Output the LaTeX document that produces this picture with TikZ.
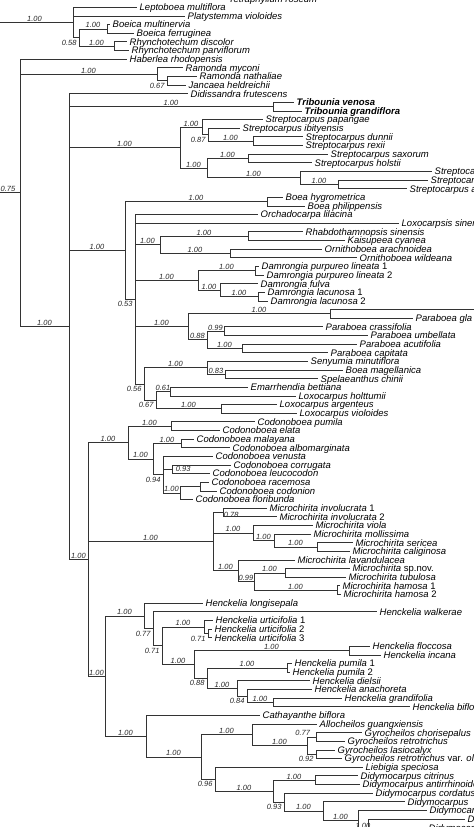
\documentclass[tikz,border=0pt]{standalone}
\usepackage{fontspec}
\setmainfont{Liberation Sans}
\tikzset{
  rama/.style={draw=black!80, line width=0.7pt},
  hoja/.style={anchor=west, inner xsep=2.5pt, inner ysep=0pt, text height=6.8pt, text depth=0pt,
    font=\fontsize{9.5}{10}\selectfont\itshape},
  hojab/.style={hoja, font=\fontsize{9.5}{10}\selectfont\bfseries\itshape},
  soporte/.style={font=\fontsize{7.5}{8}\selectfont\itshape, text=black!85, inner sep=0.6pt},
  sa/.style={soporte, pos=0.75, above},
  sb/.style={soporte, pos=1, anchor=north east, xshift=-1.5pt, yshift=-1.5pt},
  sr/.style={soporte, pos=1, anchor=west, xshift=3pt},
}
\begin{document}
\begin{tikzpicture}[x=1pt, y=-8.635pt]
\useasboundingbox (0,0.1546) rectangle (474,95.93);
\clip (0,0.1546) rectangle (474,95.93);

% Hojas
\node[hoja] (l0) at (226,0) {Tetraphyllum roseum};
\node[hoja] (l1) at (137,1) {Leptoboea multiflora};
\node[hoja] (l2) at (185,2) {Platystemma violoides};
\node[hoja] (l3) at (110,3) {Boeica multinervia};
\node[hoja] (l4) at (134,4) {Boeica ferruginea};
\node[hoja] (l5) at (127,5) {Rhynchotechum discolor};
\node[hoja] (l6) at (129,6) {Rhynchotechum parviflorum};
\node[hoja] (l7) at (127,7) {Haberlea rhodopensis};
\node[hoja] (l8) at (183,8) {Ramonda myconi};
\node[hoja] (l9) at (197,9) {Ramonda nathaliae};
\node[hoja] (l10) at (186,10) {Jancaea heldreichii};
\node[hoja] (l11) at (188,11) {Didissandra frutescens};
\node[hojab] (l12) at (294,12) {Tribounia venosa};
\node[hojab] (l13) at (302,13) {Tribounia grandiflora};
\node[hoja] (l14) at (263,14) {Streptocarpus papangae};
\node[hoja] (l15) at (240,15) {Streptocarpus ibityensis};
\node[hoja] (l16) at (303,16) {Streptocarpus dunnii};
\node[hoja] (l17) at (303,17) {Streptocarpus rexii};
\node[hoja] (l18) at (328,18) {Streptocarpus saxorum};
\node[hoja] (l19) at (312,19) {Streptocarpus holstii};
\node[hoja] (l20) at (432,20) {Streptocarpus};
\node[hoja] (l21) at (428,21) {Streptocarpus};
\node[hoja] (l22) at (407,22) {Streptocarpus a};
\node[hoja] (l23) at (283,23) {Boea hygrometrica};
\node[hoja] (l24) at (305,24) {Boea philippensis};
\node[hoja] (l25) at (258,25) {Orchadocarpa lilacina};
\node[hoja] (l26) at (399,26) {Loxocarpsis sinensis};
\node[hoja] (l27) at (303,27) {Rhabdothamnopsis sinensis};
\node[hoja] (l28) at (345,28) {Kaisupeea cyanea};
\node[hoja] (l29) at (322,29) {Ornithoboea arachnoidea};
\node[hoja] (l30) at (357,30) {Ornithoboea wildeana};
\node[hoja] (l31) at (259,31) {Damrongia purpureo lineata \textup{1}};
\node[hoja] (l32) at (264,32) {Damrongia purpureo lineata \textup{2}};
\node[hoja] (l33) at (258,33) {Damrongia fulva};
\node[hoja] (l34) at (265,34) {Damrongia lacunosa \textup{1}};
\node[hoja] (l35) at (268,35) {Damrongia lacunosa \textup{2}};
\coordinate (l36) at (490,36);
\node[hoja] (l37) at (413,37) {Paraboea gla};
\node[hoja] (l38) at (323,38) {Paraboea crassifolia};
\node[hoja] (l39) at (368,39) {Paraboea umbellata};
\node[hoja] (l40) at (357,40) {Paraboea acutifolia};
\node[hoja] (l41) at (328,41) {Paraboea capitata};
\node[hoja] (l42) at (308,42) {Senyumia minutiflora};
\node[hoja] (l43) at (343,43) {Boea magellanica};
\node[hoja] (l44) at (318,44) {Spelaeanthus chinii};
\node[hoja] (l45) at (248,45) {Emarrhendia bettiana};
\node[hoja] (l46) at (296,46) {Loxocarpus holttumii};
\node[hoja] (l47) at (277,47) {Loxocarpus argenteus};
\node[hoja] (l48) at (297,48) {Loxocarpus violoides};
\node[hoja] (l49) at (255,49) {Codonoboea pumila};
\node[hoja] (l50) at (220,50) {Codonoboea elata};
\node[hoja] (l51) at (194,51) {Codonoboea malayana};
\node[hoja] (l52) at (230,52) {Codonoboea albomarginata};
\node[hoja] (l53) at (213,53) {Codonoboea venusta};
\node[hoja] (l54) at (231,54) {Codonoboea corrugata};
\node[hoja] (l55) at (210,55) {Codonoboea leucocodon};
\node[hoja] (l56) at (209,56) {Codonoboea racemosa};
\node[hoja] (l57) at (217,57) {Codonoboea codonion};
\node[hoja] (l58) at (193,58) {Codonoboea floribunda};
\node[hoja] (l59) at (267,59) {Microchirita involucrata \textup{1}};
\node[hoja] (l60) at (277,60) {Microchirita involucrata \textup{2}};
\node[hoja] (l61) at (313,61) {Microchirita viola};
\node[hoja] (l62) at (311,62) {Microchirita mollissima};
\node[hoja] (l63) at (353,63) {Microchirita sericea};
\node[hoja] (l64) at (350,64) {Microchirita caliginosa};
\node[hoja] (l65) at (295,65) {Microchirita lavandulacea};
\node[hoja] (l66) at (350,66) {Microchirita \textup{sp.nov.}};
\node[hoja] (l67) at (346,67) {Microchirita tubulosa};
\node[hoja] (l68) at (340,68) {Microchirita hamosa \textup{1}};
\node[hoja] (l69) at (341,69) {Microchirita hamosa \textup{2}};
\node[hoja] (l70) at (203,70) {Henckelia longisepala};
\node[hoja] (l71) at (377,71) {Henckelia walkerae};
\node[hoja] (l72) at (213,72) {Henckelia urticifolia \textup{1}};
\node[hoja] (l73) at (212,73) {Henckelia urticifolia \textup{2}};
\node[hoja] (l74) at (212,74) {Henckelia urticifolia \textup{3}};
\node[hoja] (l75) at (370,75) {Henckelia floccosa};
\node[hoja] (l76) at (381,76) {Henckelia incana};
\node[hoja] (l77) at (292,77) {Henckelia pumila \textup{1}};
\node[hoja] (l78) at (290,78) {Henckelia pumila \textup{2}};
\node[hoja] (l79) at (310,79) {Henckelia dielsii};
\node[hoja] (l80) at (312,80) {Henckelia anachoreta};
\node[hoja] (l81) at (342,81) {Henckelia grandifolia};
\node[hoja] (l82) at (410,82) {Henckelia biflora};
\node[hoja] (l83) at (260,83) {Cathayanthe biflora};
\node[hoja] (l84) at (317,84) {Allocheilos guangxiensis};
\node[hoja] (l85) at (362,85) {Gyrocheilos chorisepalus};
\node[hoja] (l86) at (345,86) {Gyrocheilos retrotrichus};
\node[hoja] (l87) at (335,87) {Gyrocheilos lasiocalyx};
\node[hoja] (l88) at (342,88) {Gyrocheilos retrotrichus \textup{var.} oligolobus};
\node[hoja] (l89) at (363,89) {Liebigia speciosa};
\node[hoja] (l90) at (358,90) {Didymocarpus citrinus};
\node[hoja] (l91) at (360,91) {Didymocarpus antirrhinoides};
\node[hoja] (l92) at (373,92) {Didymocarpus cordatus};
\node[hoja] (l93) at (405,93) {Didymocarpus};
\node[hoja] (l94) at (427,94) {Didymocarpus};
\node[hoja] (l95) at (465,95) {Didymocarpus};
\node[hoja] (l96) at (426,96) {Didymocarpus};
\coordinate (l97) at (440,99);

% Nodos internos
\coordinate (base) at (-4,10);
\coordinate (lepto) at (73,2.75);
\coordinate (boeB) at (79,4.5);
\coordinate (boei) at (107,3.5);
\coordinate (rhyn) at (114,5.5);
\coordinate (raiz) at (20,22.48);
\coordinate (ramo) at (157,8.75);
\coordinate (ramb) at (167,9.5);
\coordinate (dida) at (69,37.965);
\coordinate (trib) at (273,12.5);
\coordinate (strA) at (180,17.25);
\coordinate (strB) at (202,14.875);
\coordinate (strC) at (208,15.75);
\coordinate (strD) at (253,16.5);
\coordinate (strE) at (207,19.625);
\coordinate (strF) at (248,18.5);
\coordinate (strG) at (300,20.75);
\coordinate (strH) at (338,21.5);
\coordinate (parE) at (125,29.16);
\coordinate (boea) at (267,23.5);
\coordinate (parF) at (135,34.81);
\coordinate (rhab) at (160,28.5);
\coordinate (rhaA) at (248,27.5);
\coordinate (orni) at (230,29.5);
\coordinate (damA) at (198,32.625);
\coordinate (damB) at (255,31.5);
\coordinate (damC) at (220,33.75);
\coordinate (damD) at (258,34.5);
\coordinate (parA) at (188,38);
\coordinate (parB) at (330,36.5);
\coordinate (parC) at (207,39.5);
\coordinate (parD) at (224,38.5);
\coordinate (parG) at (242,40.5);
\coordinate (loxA) at (144,44.625);
\coordinate (senA) at (207,42.75);
\coordinate (senB) at (225,43.5);
\coordinate (loxB) at (156,46.5);
\coordinate (loxC) at (170,45.5);
\coordinate (loxD) at (221,47.5);
\coordinate (didF) at (88,64.93);
\coordinate (codA) at (128,51.41);
\coordinate (codB) at (171,49.5);
\coordinate (codC) at (153,53.31);
\coordinate (codD) at (181,51.5);
\coordinate (codE) at (163,55.125);
\coordinate (codF) at (172,54.5);
\coordinate (codG) at (180,57.25);
\coordinate (codH) at (200,56.5);
\coordinate (micA) at (213,62.875);
\coordinate (micB) at (223,59.5);
\coordinate (micC) at (253,61.875);
\coordinate (micD) at (274,62.75);
\coordinate (micE) at (317,63.5);
\coordinate (micF) at (238,66.25);
\coordinate (micG) at (254,67.5);
\coordinate (micH) at (285,66.5);
\coordinate (micI) at (337,68.5);
\coordinate (henG) at (105,78.445);
\coordinate (henA) at (144,71.48);
\coordinate (henB) at (153,72.96);
\coordinate (henC) at (162,74.92);
\coordinate (henD) at (204,72.75);
\coordinate (henE) at (208,73.5);
\coordinate (henF) at (194,77.09);
\coordinate (henH) at (349,75.5);
\coordinate (henI) at (207,78.69);
\coordinate (henJ) at (287,77.5);
\coordinate (henK) at (237,79.875);
\coordinate (henL) at (247,80.75);
\coordinate (henM) at (273,81.5);
\coordinate (catA) at (146,85.41);
\coordinate (catB) at (201,87.815);
\coordinate (gyrA) at (252,85.25);
\coordinate (gyrB) at (307,86.5);
\coordinate (gyrC) at (316,85.5);
\coordinate (gyrD) at (316,87.5);
\coordinate (didA) at (215,90.38);
\coordinate (didB) at (273,91.77);
\coordinate (didC) at (315,90.5);
\coordinate (didD) at (284,93.03);
\coordinate (didE) at (323,94.06);
\coordinate (didG) at (358,95.125);
\coordinate (didH) at (368,96.25);
\coordinate (didI) at (378,97.5);

% Ramas
\draw[rama] (base) |- (l0) (base) |- (lepto) node[sa]{1.00} (base) |- (raiz) node[sa]{0.75};
\draw[rama] (lepto) |- (l1) (lepto) |- (l2) (lepto) |- (boeB) node[sb]{0.58};
\draw[rama] (boeB) |- (boei) node[sa]{1.00} (boeB) |- (rhyn) node[sa]{1.00};
\draw[rama] (boei) |- (l3) (boei) |- (l4);
\draw[rama] (rhyn) |- (l5) (rhyn) |- (l6);
\draw[rama] (raiz) |- (l7) (raiz) |- (ramo) node[sa]{1.00} (raiz) |- (dida) node[sa]{1.00};
\draw[rama] (ramo) |- (l8) (ramo) |- (ramb) node[sb]{0.67};
\draw[rama] (ramb) |- (l9) (ramb) |- (l10);
\draw[rama] (dida) |- (l11) (dida) |- (trib) node[sa]{1.00} (dida) |- (strA) node[sa]{1.00}
  (dida) |- (parE) node[sa]{1.00} (dida) |- (didF) node[sa]{1.00};
\draw[rama] (trib) |- (l12) (trib) |- (l13);
% Streptocarpus
\draw[rama] (strA) |- (strB) node[sa]{1.00} (strA) |- (strE) node[sa]{1.00};
\draw[rama] (strB) |- (l14) (strB) |- (strC) node[sb]{0.87};
\draw[rama] (strC) |- (l15) (strC) |- (strD) node[sa]{1.00};
\draw[rama] (strD) |- (l16) (strD) |- (l17);
\draw[rama] (strE) |- (strF) node[sa]{1.00} (strE) |- (strG) node[sa]{1.00};
\draw[rama] (strF) |- (l18) (strF) |- (l19);
\draw[rama] (strG) |- (l20) (strG) |- (strH) node[sa]{1.00};
\draw[rama] (strH) |- (l21) (strH) |- (l22);
% Boea, Paraboea, Loxocarpus
\draw[rama] (parE) |- (boea) node[sa]{1.00} (parE) |- (parF) node[sb]{0.53};
\draw[rama] (boea) |- (l23) (boea) |- (l24);
\draw[rama] (parF) |- (l25) (parF) |- (l26) (parF) |- (rhab) node[sa]{1.00}
  (parF) |- (damA) node[sa]{1.00} (parF) |- (parA) node[sa]{1.00} (parF) |- (loxA) node[sb]{0.56};
\draw[rama] (rhab) |- (rhaA) node[sa]{1.00} (rhab) |- (orni) node[sa]{1.00};
\draw[rama] (rhaA) |- (l27) (rhaA) |- (l28);
\draw[rama] (orni) |- (l29) (orni) |- (l30);
\draw[rama] (damA) |- (damB) node[sa]{1.00} (damA) |- (damC) node[sa]{1.00};
\draw[rama] (damB) |- (l31) (damB) |- (l32);
\draw[rama] (damC) |- (l33) (damC) |- (damD) node[sa]{1.00};
\draw[rama] (damD) |- (l34) (damD) |- (l35);
\draw[rama] (parA) |- (parB) node[sa]{1.00} (parA) |- (parC) node[sa]{0.88};
\draw[rama] (parB) |- (l36) (parB) |- (l37);
\draw[rama] (parC) |- (parD) node[sa]{0.99} (parC) |- (parG) node[sa]{1.00};
\draw[rama] (parD) |- (l38) (parD) |- (l39);
\draw[rama] (parG) |- (l40) (parG) |- (l41);
\draw[rama] (loxA) |- (senA) node[sa]{1.00} (loxA) |- (loxB) node[sb]{0.67};
\draw[rama] (senA) |- (l42) (senA) |- (senB) node[sa]{0.83};
\draw[rama] (senB) |- (l43) (senB) |- (l44);
\draw[rama] (loxB) |- (loxC) node[sa]{0.61} (loxB) |- (loxD) node[sa]{1.00};
\draw[rama] (loxC) |- (l45) (loxC) |- (l46);
\draw[rama] (loxD) |- (l47) (loxD) |- (l48);
% Codonoboea, Microchirita
\draw[rama] (didF) |- (codA) node[sa]{1.00} (didF) |- (micA) node[sa]{1.00} (didF) |- (henG) node[sa]{1.00};
\draw[rama] (codA) |- (codB) node[sa]{1.00} (codA) |- (codC) node[sa]{1.00};
\draw[rama] (codB) |- (l49) (codB) |- (l50);
\draw[rama] (codC) |- (codD) node[sa]{1.00} (codC) |- (codE) node[sb]{0.94};
\draw[rama] (codD) |- (l51) (codD) |- (l52);
\draw[rama] (codE) |- (l53) (codE) |- (codF) node[sr]{0.93} (codE) |- (codG) node[sa]{1.00};
\draw[rama] (codF) |- (l54) (codF) |- (l55);
\draw[rama] (codG) |- (codH) (codG) |- (l58);
\draw[rama] (codH) |- (l56) (codH) |- (l57);
\draw[rama] (micA) |- (micB) node[sr, xshift=-3pt, yshift=-2pt]{0.78} (micA) |- (micC) node[sa]{1.00}
  (micA) |- (micF) node[sa]{1.00};
\draw[rama] (micB) |- (l59) (micB) |- (l60);
\draw[rama] (micC) |- (l61) (micC) |- (micD) node[sa]{1.00};
\draw[rama] (micD) |- (l62) (micD) |- (micE) node[sa]{1.00};
\draw[rama] (micE) |- (l63) (micE) |- (l64);
\draw[rama] (micF) |- (l65) (micF) |- (micG) node[sa]{0.99};
\draw[rama] (micG) |- (micH) node[sa]{1.00} (micG) |- (micI) node[sa]{1.00};
\draw[rama] (micH) |- (l66) (micH) |- (l67);
\draw[rama] (micI) |- (l68) (micI) |- (l69);
% Henckelia
\draw[rama] (henG) |- (henA) node[sa]{1.00} (henG) |- (catA) node[sa]{1.00};
\draw[rama] (henA) |- (l70) (henA) |- (henB) node[sb]{0.77};
\draw[rama] (henB) |- (l71) (henB) |- (henC) node[sb]{0.71};
\draw[rama] (henC) |- (henD) node[sa]{1.00} (henC) |- (henF) node[sa]{1.00};
\draw[rama] (henD) |- (l72) (henD) |- (henE) node[sb]{0.71};
\draw[rama] (henE) |- (l73) (henE) |- (l74);
\draw[rama] (henF) |- (henH) node[sa]{1.00} (henF) |- (henI) node[sb]{0.88};
\draw[rama] (henH) |- (l75) (henH) |- (l76);
\draw[rama] (henI) |- (henJ) node[sa]{1.00} (henI) |- (henK) node[sa]{1.00};
\draw[rama] (henJ) |- (l77) (henJ) |- (l78);
\draw[rama] (henK) |- (l79) (henK) |- (henL) node[sb]{0.84};
\draw[rama] (henL) |- (l80) (henL) |- (henM) node[sa]{1.00};
\draw[rama] (henM) |- (l81) (henM) |- (l82);
% Cathayanthe, Gyrocheilos, Didymocarpus
\draw[rama] (catA) |- (l83) (catA) |- (catB) node[sa]{1.00};
\draw[rama] (catB) |- (gyrA) node[sa]{1.00} (catB) |- (didA) node[sb]{0.96};
\draw[rama] (gyrA) |- (l84) (gyrA) |- (gyrB) node[sa]{1.00};
\draw[rama] (gyrB) |- (gyrC) node[soporte, pos=1, anchor=south east, xshift=-5pt]{0.77} (gyrB) |- (gyrD) node[sb]{0.92};
\draw[rama] (gyrC) |- (l85) (gyrC) |- (l86);
\draw[rama] (gyrD) |- (l87) (gyrD) |- (l88);
\draw[rama] (didA) |- (l89) (didA) |- (didB) node[sa]{1.00};
\draw[rama] (didB) |- (didC) node[sa]{1.00} (didB) |- (didD) node[sb]{0.93};
\draw[rama] (didC) |- (l90) (didC) |- (l91);
\draw[rama] (didD) |- (l92) (didD) |- (didE) node[sa]{1.00};
\draw[rama] (didE) |- (l93) (didE) |- (didG) node[sa]{1.00};
\draw[rama] (didG) |- (l94) (didG) |- (didH) node[sa]{1.00};
\draw[rama] (didH) |- (l95) (didH) |- (didI);
\draw[rama] (didI) |- (l96) (didI) |- (l97);
\end{tikzpicture}
\end{document}
